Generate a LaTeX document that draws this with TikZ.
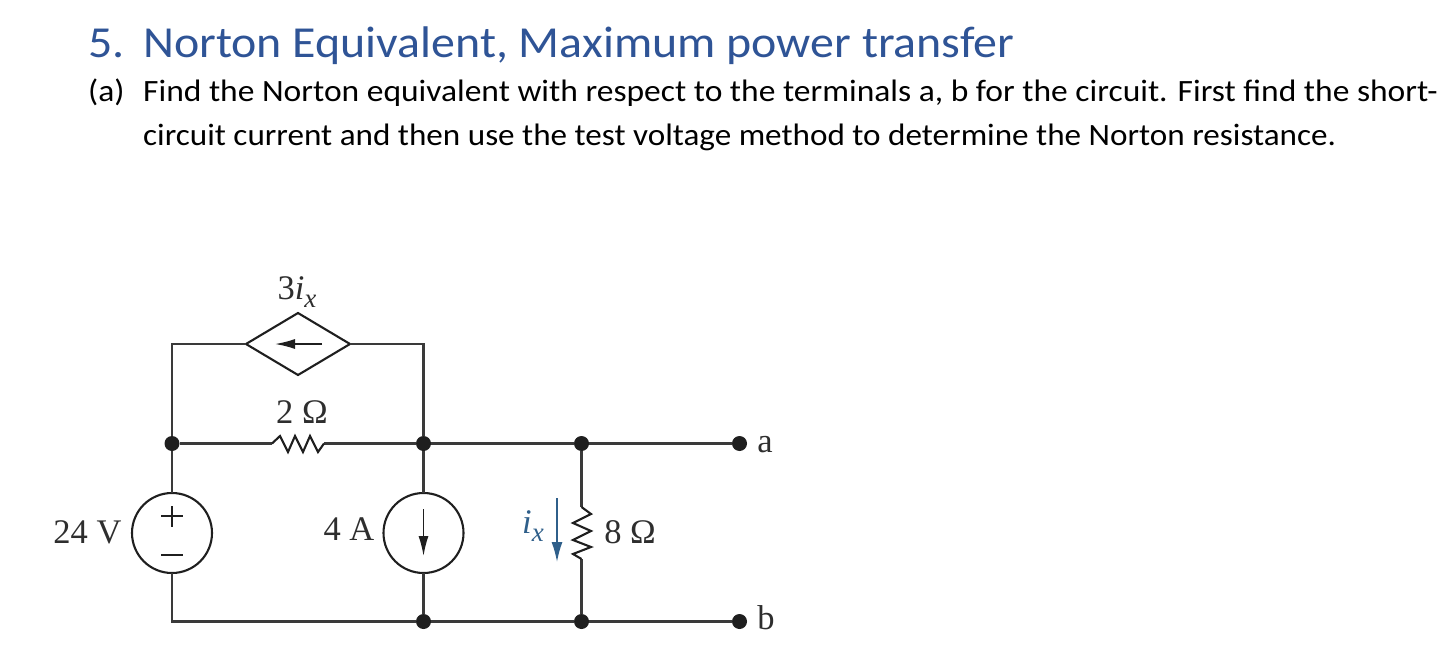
\documentclass[tikz,border=0pt]{standalone}
\usepackage{graphicx}
\usepackage{fontspec}
\setmainfont[FakeStretch=1.081]{Carlito}
\newfontfamily\lab{Liberation Serif}
\definecolor{titleblue}{HTML}{2F5496}
\definecolor{wirecol}{HTML}{3A3A3A}
\definecolor{ixblue}{HTML}{2F5F8A}
\usetikzlibrary{arrows.meta}
\tikzset{
  x=1pt,y=-1pt,
  wire/.style={draw=wirecol,line width=2.1pt,line join=miter},
  dot/.style={circle,fill=black!88,inner sep=0pt,minimum size=15pt},
  src/.style={circle,draw=black!88,line width=2.1pt,minimum size=80pt,inner sep=0pt,outer sep=0pt},
  dep/.style={draw=black!88,line width=2.1pt},
  lbl/.style={font=\lab\fontsize{34.5}{34.5}\selectfont,text=black!82,inner sep=0pt,anchor=base},
  head/.style={font=\fontsize{44.3}{44.3}\selectfont,text=titleblue,inner sep=0pt,anchor=base west},
  bodytxt/.style={font=\fontsize{31}{31}\selectfont,text=black,inner sep=0pt,anchor=base west},
  tip/.style={-{Latex[length=20pt,width=10pt]},draw=black!88,line width=1.5pt},
  ixtip/.style={-{Latex[length=20pt,width=11pt]},draw=ixblue,line width=1.6pt}
}
\newcommand{\subx}{\raisebox{-8pt}{\fontsize{27}{27}\selectfont\textit{x}}}
\begin{document}
\begin{tikzpicture}
\useasboundingbox (0,0) rectangle (1450,647);
\node[head] (t1) at (88,58) {5.};
\node[head] (t2) at (143,58) {Norton Equivalent, Maximum power transfer};
\node[bodytxt] (l0) at (88,102) {(a)};
\node[bodytxt] (l1) at (143,102) {Find the Norton equivalent with respect to the terminals a, b for the circuit. First find the short-};
\node[bodytxt] (l2) at (143,146) {\scalebox{0.989}[1]{circuit current and then use the test voltage method to determine the Norton resistance.}};
% junctions
\node[dot] (n1) at (172,443.5) {};
\node[dot] (n2) at (423.5,443.5) {};
\node[dot] (n3) at (581.5,443.5) {};
\node[dot] (na) at (739.5,443.5) {};
\node[dot] (n4) at (423.5,621.5) {};
\node[dot] (n5) at (581.5,621.5) {};
\node[dot] (nb) at (739.5,621.5) {};
\coordinate (tl) at (172,344);
\coordinate (tr) at (423.5,344);
\coordinate (bl) at (172,621.5);
% sources
\node[src] (vs) at (172,533) {};
\node[src] (cs) at (423.5,533) {};
% dependent source
\coordinate (dw) at (246,344);
\coordinate (de) at (350,344);
\coordinate (dn) at (298,313);
\coordinate (ds) at (298,375);
\draw[dep] (dw) -- (dn) -- (de) -- (ds) -- cycle;
\draw[tip] (322,344) -- (275,344);
% wires
\draw[wire] (n1) -- (tl) -- (dw);
\draw[wire] (de) -- (tr) -- (n2);
\draw[wire] (n1) -- (vs);
\draw[wire] (vs) -- (bl) -- (n4);
\draw[wire] (n2) -- (cs);
\draw[wire] (cs) -- (n4);
\draw[wire] (n4) -- (n5) -- (nb);
\draw[wire] (n2) -- (n3) -- (na);
% 2 ohm resistor
\coordinate (r2a) at (272,443.5);
\coordinate (r2b) at (324,443.5);
\draw[wire] (n1) -- (r2a);
\draw[wire] (r2b) -- (n2);
\draw[dep] (r2a) -- (280,436) -- (288,452) -- (295,436) -- (303,452) -- (310,436) -- (318,452) -- (r2b);
% 8 ohm resistor
\coordinate (r8a) at (581.5,507);
\coordinate (r8b) at (581.5,559);
\draw[wire] (n3) -- (r8a);
\draw[wire] (r8b) -- (n5);
\draw[dep] (r8a) -- (591,514) -- (573,523) -- (591,531) -- (573,540) -- (591,547) -- (573,554) -- (r8b);
% source markings
\draw[black!88,line width=1.4pt] (161,516) -- (183,516) (172,506) -- (172,527);
\draw[black!88,line width=1.4pt] (161,555) -- (183,555);
\draw[tip] (423.5,509) -- (423.5,556);
\draw[ixtip] (557,498) -- (557,562);
% labels
\node[lbl] (l3ix) at (297,299) {3\textit{i}\subx};
\node[lbl] (l2o) at (302,423) {2 Ω};
\node[lbl] (l24) at (87.5,543) {24 V};
\node[lbl] (l4a) at (349,540) {4 A};
\node[lbl] (l8o) at (630,543) {8 Ω};
\node[lbl,text=ixblue] (lix) at (533,533) {\textit{i}\subx};
\node[lbl] (la) at (765,452) {a};
\node[lbl] (lb) at (766,629) {b};
\end{tikzpicture}
\end{document}
